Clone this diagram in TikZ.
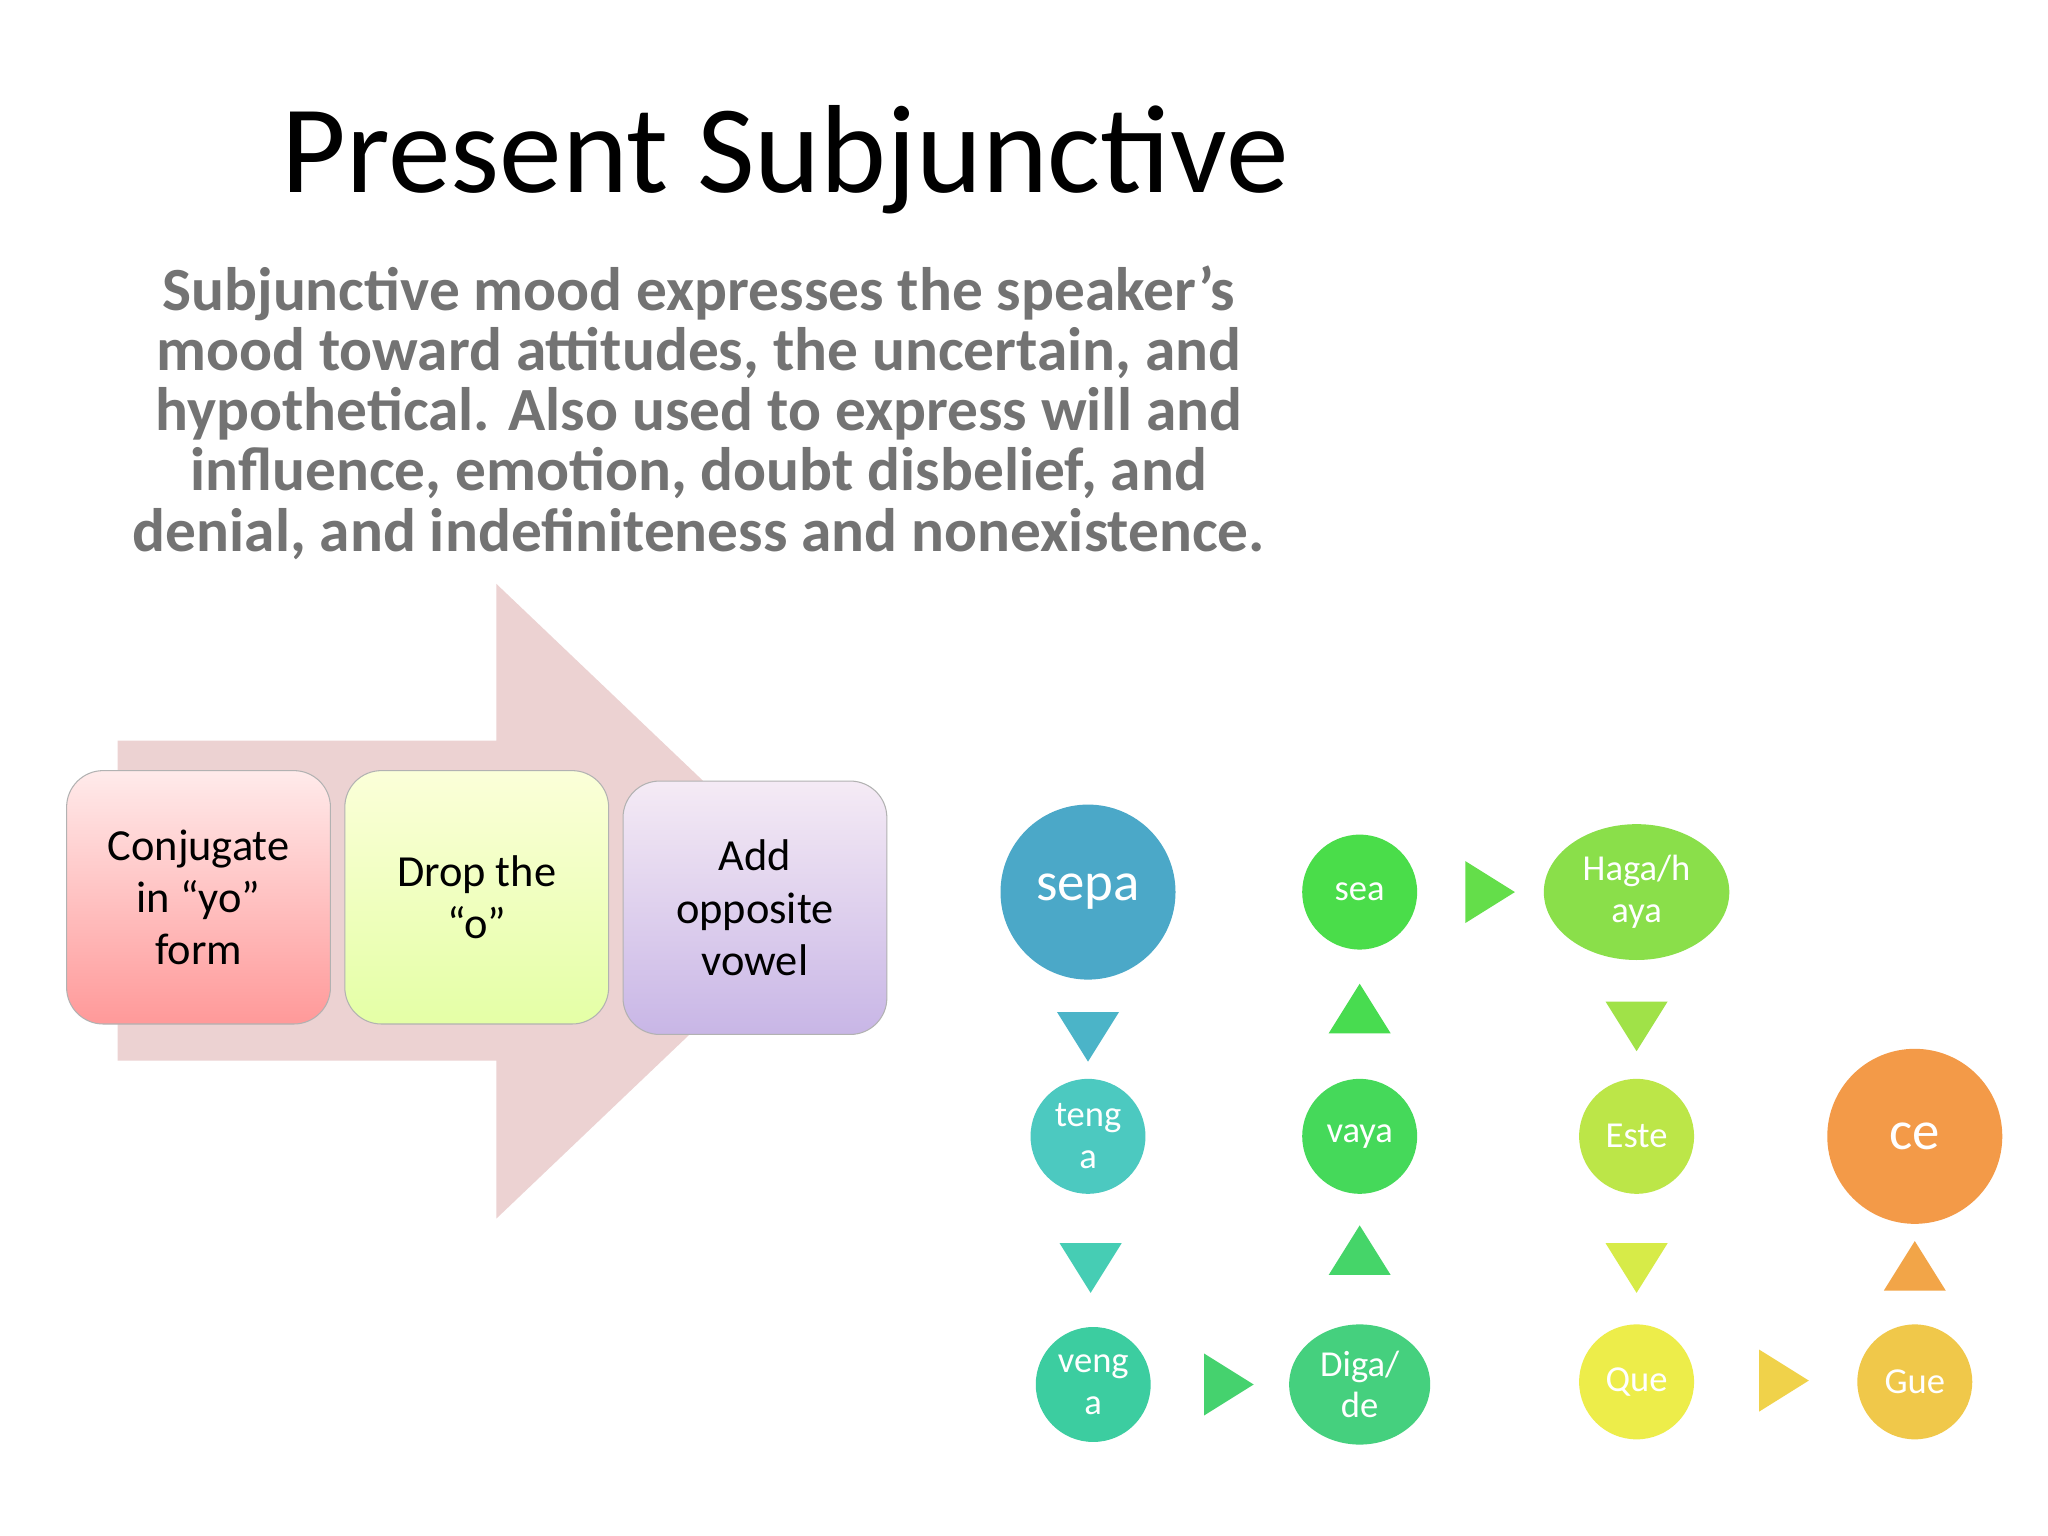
\documentclass[tikz,border=0pt]{standalone}
\usepackage{fontspec}
\setmainfont{Carlito}
\usetikzlibrary{shapes.geometric}
\begin{document}
\begin{tikzpicture}[x=0.5pt,y=-0.5pt,
  circ/.style={circle,inner sep=0pt,text=white,font=\fontsize{14}{16}\selectfont,align=center},
  tri/.style={isosceles triangle,isosceles triangle apex angle=64,inner sep=0pt,minimum height=19pt,minimum width=23pt,draw=none},
  stepbox/.style={rounded corners=14pt,draw=gray!60,minimum width=101pt,minimum height=97pt,align=center,font=\fontsize{17}{20}\selectfont}]
\useasboundingbox (0,0) rectangle (1568,1176);
\fill[white] (0,0) rectangle (1568,1176);
\node (title) at (601,122) {\fontsize{48}{54}\selectfont Present Subjunctive};
\node[text=gray!90!black,align=center,font=\bfseries\fontsize{23.5}{23}\selectfont] (sub) at (535,316)
 {Subjunctive mood expresses the speaker’s\\mood toward attitudes, the uncertain, and\\hypothetical. Also used to express will and\\influence, emotion, doubt disbelief, and\\denial, and indefiniteness and nonexistence.};
\fill[red!40!gray!25] (90,567) -- (380,567) -- (380,447) -- (635,690) -- (380,933) -- (380,812) -- (90,812) -- cycle;
\node[stepbox,top color=red!8,bottom color=red!40] (b1) at (152,687) {Conjugate\\in “yo”\\form};
\node[stepbox,top color=green!10!yellow!15,bottom color=green!30!yellow!35] (b2) at (365,687) {Drop the\\“o”};
\node[stepbox,top color=violet!8,bottom color={rgb,255:red,200;green,182;blue,230}] (b3) at (578,695) {Add\\opposite\\vowel};
\node[circ,fill={rgb,255:red,75;green,168;blue,200},minimum size=67pt,font=\fontsize{21}{22}\selectfont] (sepa) at (833,683) {sepa};
\node[circ,fill={rgb,255:red,76;green,201;blue,192},minimum size=44pt] (tenga) at (833,870) {teng\\a};
\node[circ,fill={rgb,255:red,60;green,205;blue,160},minimum size=44pt] (venga) at (837,1060) {veng\\a};
\node[circ,ellipse,fill={rgb,255:red,69;green,208;blue,126},minimum width=54pt,minimum height=46pt] (diga) at (1041,1060) {Diga/\\de};
\node[circ,fill={rgb,255:red,69;green,217;blue,90},minimum size=44pt] (vaya) at (1041,870) {vaya};
\node[circ,fill={rgb,255:red,74;green,221;blue,74},minimum size=44pt] (sea) at (1041,683) {sea};
\node[circ,ellipse,fill={rgb,255:red,138;green,223;blue,74},minimum width=71pt,minimum height=52pt] (haga) at (1253,683) {Haga/h\\aya};
\node[circ,fill={rgb,255:red,188;green,230;blue,72},minimum size=44pt] (este) at (1253,870) {Este};
\node[circ,fill={rgb,255:red,237;green,237;blue,74},minimum size=44pt] (que) at (1253,1058) {Que};
\node[circ,fill={rgb,255:red,240;green,200;blue,74},minimum size=44pt] (gue) at (1466,1058) {Gue};
\node[circ,fill={rgb,255:red,243;green,154;blue,72},minimum size=67pt,font=\fontsize{21}{22}\selectfont] (ce) at (1466,870) {ce};
\node[tri,shape border rotate=-90,fill={rgb,255:red,75;green,180;blue,200}] (t1) at (833,788) {};
\node[tri,shape border rotate=-90,fill={rgb,255:red,70;green,205;blue,180}] (t2) at (835,965) {};
\node[tri,fill={rgb,255:red,69;green,210;blue,110}] (t3) at (935,1060) {};
\node[tri,shape border rotate=90,fill={rgb,255:red,69;green,213;blue,105}] (t4) at (1041,963) {};
\node[tri,shape border rotate=90,fill={rgb,255:red,72;green,220;blue,80}] (t5) at (1041,778) {};
\node[tri,fill={rgb,255:red,100;green,222;blue,74}] (t6) at (1135,683) {};
\node[tri,shape border rotate=-90,fill={rgb,255:red,160;green,226;blue,72}] (t7) at (1253,780) {};
\node[tri,shape border rotate=-90,fill={rgb,255:red,215;green,235;blue,72}] (t8) at (1253,965) {};
\node[tri,fill={rgb,255:red,240;green,210;blue,74}] (t9) at (1360,1057) {};
\node[tri,shape border rotate=90,fill={rgb,255:red,242;green,165;blue,72}] (t10) at (1466,975) {};
\end{tikzpicture}
\end{document}
